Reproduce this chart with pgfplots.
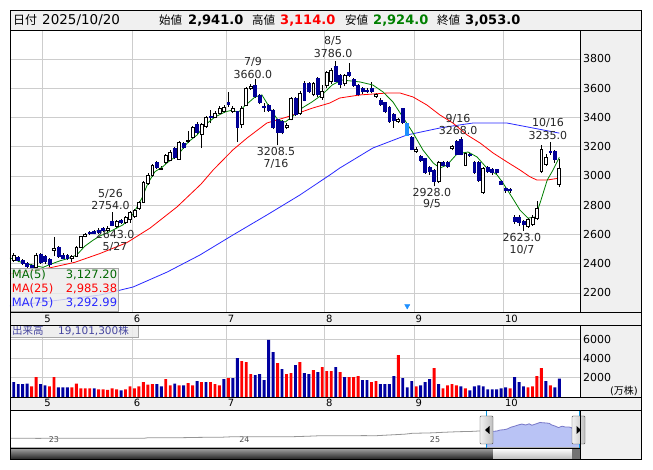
\documentclass[border=0pt]{standalone}
\usepackage{pgfplots}
\usepackage{pgfplotstable}
\pgfplotsset{compat=1.18}
\usepackage{fontspec}
\setmainfont{DejaVu Sans}
\newfontfamily\jp{Noto Sans CJK JP}
\definecolor{cblue}{RGB}{0,0,150}
\definecolor{lblue}{RGB}{30,144,255}
\definecolor{gridc}{RGB}{205,205,205}
\definecolor{bggray}{RGB}{240,240,240}
\definecolor{ma5c}{RGB}{0,128,0}
\definecolor{ma25c}{RGB}{255,0,0}
\definecolor{ma75c}{RGB}{40,40,255}
\definecolor{vred}{RGB}{255,0,0}
\definecolor{vblue}{RGB}{0,0,160}
\definecolor{navfill}{RGB}{185,195,245}
\definecolor{navline}{RGB}{150,150,150}
\definecolor{navwinline}{RGB}{120,120,200}
\definecolor{hdrgreen}{RGB}{0,128,0}
\definecolor{voltext}{RGB}{70,70,160}
\pgfdeclareplotmark{nothing}{}
\newcommand\fs[1]{\fontsize{#1}{#1}\selectfont}

\pgfplotstableread{
i o h l c k
-1 2425 2470 2415 2460 0
0 2445 2455 2410 2420 0
1 2420 2430 2390 2400 0
2 2405 2410 2370 2385 0
3 2390 2395 2350 2370 0
4 2375 2470 2365 2460 0
5 2465 2470 2400 2410 0
6 2450 2460 2400 2415 0
7 2430 2440 2380 2395 0
8 2490 2580 2450 2505 0
9 2510 2520 2440 2450 0
10 2460 2470 2430 2440 0
11 2455 2465 2425 2435 0
12 2440 2460 2415 2450 0
13 2450 2520 2445 2515 0
14 2515 2590 2510 2585 0
15 2590 2610 2580 2600 0
16 2615 2625 2595 2605 0
17 2620 2630 2600 2610 0
18 2630 2645 2605 2615 0
19 2640 2650 2615 2625 0
20 2625 2660 2615 2640 0
21 2690 2754 2655 2665 0
22 2655 2700 2643 2690 0
23 2695 2705 2670 2680 0
24 2680 2725 2670 2715 0
25 2700 2760 2680 2750 0
26 2725 2775 2715 2765 0
27 2780 2830 2770 2820 0
28 2820 2965 2815 2955 0
29 2950 3020 2940 3005 0
30 3005 3080 2995 3070 0
31 3090 3100 3050 3060 0
32 3045 3070 3040 3055 0
33 3090 3150 3080 3140 0
34 3110 3175 3100 3160 0
35 3190 3200 3115 3125 0
36 3115 3240 3110 3230 0
37 3225 3235 3185 3195 0
38 3235 3310 3225 3245 0
39 3265 3345 3255 3335 0
40 3350 3370 3290 3295 0
41 3285 3360 3190 3350 0
42 3340 3410 3330 3400 0
43 3410 3450 3360 3400 0
44 3400 3445 3395 3430 0
45 3430 3480 3425 3465 0
46 3440 3485 3430 3470 0
47 3500 3575 3470 3490 0
48 3440 3475 3430 3460 0
49 3440 3445 3232 3330 0
50 3350 3475 3330 3465 0
51 3485 3610 3480 3600 0
52 3600 3630 3590 3612 0
53 3620 3660 3535 3545 0
54 3550 3560 3490 3500 0
55 3472 3500 3440 3470 0
56 3485 3490 3440 3450 0
57 3450 3460 3320 3335 0
58 3385 3390 3208.5 3295 0
59 3370 3380 3285 3300 0
60 3330 3360 3320 3345 0
61 3385 3540 3380 3530 0
62 3530 3540 3410 3420 0
63 3430 3580 3420 3565 0
64 3635 3650 3510 3520 0
65 3635 3645 3565 3580 0
66 3560 3640 3545 3630 0
67 3670 3680 3540 3555 0
68 3535 3620 3520 3575 0
69 3620 3720 3600 3705 0
70 3650 3740 3630 3720 0
71 3750 3786 3640 3650 0
72 3690 3700 3600 3625 0
73 3630 3700 3615 3690 0
74 3710 3770 3680 3690 0
75 3660 3670 3610 3620 0
76 3620 3630 3545 3560 0
77 3600 3610 3560 3575 0
78 3585 3600 3565 3582 0
79 3600 3640 3565 3575 0
80 3545 3565 3535 3555 0
81 3520 3530 3480 3490 0
82 3500 3505 3430 3440 0
83 3470 3480 3365 3375 0
84 3420 3430 3330 3380 0
85 3375 3395 3365 3385 0
86 3460 3465 3355 3365 0
87 3360 3365 3275 3280 1
88 3265 3270 3175 3185 0
89 3170 3195 3160 3185 0
90 3135 3145 3095 3105 0
91 3120 3125 3015 3025 0
92 3060 3070 3010 3030 0
93 3040 3045 2928 2960 0
94 2960 3105 2950 3095 0
95 3095 3105 3060 3070 0
96 3090 3100 3055 3065 0
97 3190 3215 3175 3200 0
98 3235 3245 3140 3150 0
99 3250 3268 3140 3150 0
100 3075 3165 3065 3155 0
101 3150 3160 3130 3140 0
102 3095 3100 3015 3025 0
103 3090 3100 2960 2970 0
104 2890 3060 2880 3055 0
105 3060 3070 3020 3030 0
106 3045 3055 3010 3025 0
107 3045 3050 3005 3025 0
108 2960 2970 2940 2945 0
109 2915 2925 2885 2900 0
110 2910 2920 2885 2900 0
111 2720 2730 2670 2690 0
112 2720 2730 2660 2680 0
113 2690 2700 2623 2670 0
114 2655 2710 2645 2700 0
115 2670 2730 2660 2720 0
116 2710 2830 2700 2780 0
117 3030 3210 3020 3180 0
118 3080 3150 3070 3130 0
119 3170 3235 3145 3160 0
120 3165 3175 3090 3113 0
121 2941 3114 2924 3053 0
}\ohlc

\pgfplotstableread{
i v s
-1 1540 0
0 1330 0
1 1330 0
2 1400 0
3 1120 1
4 2065 1
5 1330 0
6 1225 0
7 1120 1
8 2065 1
9 1015 0
10 1015 0
11 1015 0
12 1015 1
13 1400 1
14 910 1
15 910 1
16 910 1
17 910 0
18 805 1
19 805 1
20 735 1
21 910 1
22 805 1
23 700 0
24 805 1
25 1120 1
26 910 1
27 1120 1
28 1540 1
29 1295 1
30 1330 1
31 1330 0
32 1120 0
33 1855 1
34 1225 1
35 1400 0
36 1225 1
37 1225 0
38 1435 1
39 1225 1
40 1645 0
41 1540 1
42 1540 0
43 1540 1
44 1330 1
45 1225 1
46 1855 0
47 1960 1
48 1960 0
49 4060 0
50 3745 1
51 3640 1
52 2380 1
53 2275 0
54 2380 0
55 1750 0
56 5950 0
57 4690 0
58 3535 1
59 2905 0
60 2380 1
61 2485 1
62 3325 0
63 3640 1
64 2485 0
65 2380 0
66 2800 1
67 2590 0
68 3115 1
69 2695 1
70 2695 1
71 3115 0
72 2590 1
73 2065 0
74 2065 1
75 2065 1
76 2170 1
77 1750 0
78 1750 0
79 1540 1
80 1645 1
81 1330 0
82 1330 0
83 1330 0
84 2170 0
85 4375 1
86 1960 0
87 1015 0
88 1645 0
89 1120 1
90 1225 0
91 1540 0
92 1855 0
93 3010 1
94 1330 0
95 910 1
96 1225 1
97 1330 1
98 1225 1
99 1120 0
100 910 1
101 700 0
102 1120 0
103 1225 0
104 1120 0
105 805 0
106 805 0
107 805 0
108 910 0
109 1015 0
110 910 1
111 2065 0
112 1540 0
113 1120 0
114 1015 1
115 1120 1
116 2170 1
117 3010 1
118 1645 0
119 1225 1
120 1015 0
121 1910 0
}\vol

\pgfplotstableread{
i v
-1.83 2440
1.07 2405
5.55 2375
7.11 2395
9.35 2420
11.1 2435
13.1 2460
14.9 2520
16.7 2560
18.3 2590
20.5 2620
23.4 2665
25.7 2740
27.7 2850
29.0 2950
30.6 3030
32.2 3060
33.5 3095
35.7 3143
38.0 3232
40.0 3280
41.8 3349
44.0 3403
46.2 3437
47.8 3450
49.2 3435
50.7 3480
52.95 3540
54.5 3554
55.6 3499
56.8 3437
58.1 3383
59.7 3369
61.2 3403
63.5 3465
65.7 3506
67.9 3554
70.2 3622
72.4 3656
76.4 3643
79.3 3622
81.6 3574
83.8 3506
86.0 3403
88.3 3294
90.5 3178
92.8 3089
94.3 3054
95.9 3075
98.1 3150
100.6 3164
102.6 3130
104.8 3054
107.1 3007
108.4 2952
110.4 2856
112.2 2767
114.0 2712
115.6 2719
116.7 2815
118.3 2972
119.6 3041
121 3127.2
}\maA

\pgfplotstableread{
i v
-1.83 2330
7.1 2372
12.7 2410
18.3 2470
24.3 2544
29.5 2644
35.5 2788
40.9 2945
43.6 3041
48.0 3178
51.2 3260
55.6 3362
60.1 3403
65.9 3465
69.7 3499
71.9 3533
76.4 3554
82.5 3567
85.4 3567
88.3 3540
91.4 3485
94.3 3417
97.2 3362
100.4 3280
103.3 3225
106.2 3157
109.3 3096
112.2 3041
114.4 2995
116.0 2972
118.2 2972
121 2985.38
}\maB

\pgfplotstableread{
i v
-1.83 2110
18.3 2186
25.7 2241
33.3 2343
40.6 2459
48.0 2596
55.6 2733
63.0 2870
69.7 3007
71.9 3054
79.3 3191
86.9 3280
94.3 3328
97.2 3342
101.7 3362
109.3 3362
115.1 3328
121 3293
}\maC

\pgfplotstableread{
t v
2022.79 1404
2022.95 1395
2023.10 1410
2023.25 1400
2023.40 1405
2023.50 1404
2023.52 1476
2023.65 1470
2023.80 1540
2023.90 1550
2023.97 1635
2024.10 1620
2024.20 1640
2024.28 1635
2024.36 1700
2024.43 1780
2024.55 1760
2024.65 1790
2024.72 1780
2024.80 1900
2024.87 2000
2024.91 2127
2025.00 2180
2025.08 2280
2025.15 2359
2025.22 2400
2025.26 2460
2025.30 2460
}\navA

\pgfplotstableread{
t v
2025.301 2460
2025.329 2415
2025.353 2450
2025.370 2600
2025.389 2640
2025.408 2750
2025.427 3005
2025.447 3160
2025.466 3335
2025.485 3465
2025.504 3330
2025.523 3500
2025.537 3295
2025.562 3520
2025.581 3705
2025.592 3650
2025.614 3620
2025.630 3555
2025.638 3375
2025.658 3185
2025.677 2960
2025.696 3150
2025.715 3025
2025.734 3025
2025.745 2945
2025.753 2690
2025.773 2780
2025.784 3180
2025.792 3113
2025.800 3053
}\navB

\begin{document}
\begin{tikzpicture}[x=1pt,y=1pt]
\useasboundingbox (0,0) rectangle (653,470);
\fill[white] (0,0) rectangle (653,470);
% header, strips and right column
\fill[bggray] (10,440) rectangle (641,460);
\fill[bggray] (10,145) rectangle (641,158);
\fill[bggray] (10,60) rectangle (641,73);
\fill[bggray] (580,10) rectangle (641,440);

% ---------- main price axis
\begin{axis}[
  at={(10pt,158pt)}, anchor=south west,
  width=570pt, height=282pt, scale only axis,
  xmin=-1.834, xmax=125.63, ymin=2070, ymax=3998,
  axis background/.style={fill=white},
  xtick={5.5,25.5,46.5,68.5,88.5,108.5},
  xticklabels={5,6,7,8,9,10},
  ytick={2200,2400,...,3800},
  grid=major, grid style={gridc, line width=0.8pt},
  major tick length=0pt,
  yticklabel pos=right,
  /pgf/number format/1000 sep={},
  /pgf/number format/assume math mode=true,
  yticklabel style={anchor=west, inner sep=0pt, xshift=3pt, font=\fs{11}},
  xticklabel style={anchor=west, inner sep=0pt, xshift=1.5pt, yshift=-6.5pt, font=\fs{10}},
  axis line style={black, line width=0.8pt},
]
% wicks
\addplot[only marks, mark=nothing,
  error bars/.cd, y dir=plus, y explicit, error mark=none,
  error bar style={line width=0.75pt, black}]
  table[x=i, y=l, y error expr={\thisrow{h}-\thisrow{l}}] {\ohlc};
% bodies
\addplot[scatter, only marks, mark=nothing,
  visualization depends on={\thisrow{o} \as \op},
  visualization depends on={\thisrow{c} \as \cl},
  visualization depends on={\thisrow{k} \as \kk},
  scatter/@pre marker code/.code={%
    \pgfkeys{/pgf/fpu=false}%
    \pgfmathsetmacro\bh{max(abs(\cl-\op)*0.14627,0.8)}%
    \pgfmathsetmacro\hb{-\bh/2}%
    \ifdim\cl pt<\op pt
      \ifdim\kk pt>0.5pt \pgfsetfillcolor{lblue}\pgfsetstrokecolor{lblue}%
      \else \pgfsetfillcolor{cblue}\pgfsetstrokecolor{cblue}\fi
    \else \pgfsetfillcolor{white}\pgfsetstrokecolor{black}\fi
    \pgfsetlinewidth{0.75pt}%
    \pgfpathrectangle{\pgfpoint{-1.45pt}{\hb pt}}{\pgfpoint{2.9pt}{\bh pt}}%
    \pgfusepath{fill,stroke}%
  },
  scatter/@post marker code/.code={},
] table[x=i, y expr={(\thisrow{o}+\thisrow{c})/2}] {\ohlc};
% moving averages
\addplot[ma75c, line width=0.8pt] table[x=i,y=v] {\maC};
\addplot[ma25c, line width=0.8pt] table[x=i,y=v] {\maB};
\addplot[ma5c, line width=0.8pt] table[x=i,y=v] {\maA};
% marker
\addplot[only marks, mark=triangle*, mark size=3pt, mark options={rotate=180, fill=lblue, draw=lblue}] coordinates {(87,2111)};
% annotations
\begin{scope}[every node/.style={font=\fs{11}, inner sep=0pt, text=black!85}]
\node at (axis cs:20.64,2877) {5/26};
\node at (axis cs:20.64,2795) {2754.0};
\node at (axis cs:21.65,2603) {2643.0};
\node at (axis cs:21.65,2514) {5/27};
\node at (axis cs:52.5,3779) {7/9};
\node at (axis cs:52.5,3697) {3660.0};
\node at (axis cs:57.65,3164) {3208.5};
\node at (axis cs:57.65,3082) {7/16};
\node at (axis cs:70.4,3923) {8/5};
\node at (axis cs:70.4,3834) {3786.0};
\node at (axis cs:92.53,2884) {2928.0};
\node at (axis cs:92.53,2808) {9/5};
\node at (axis cs:98.35,3390) {9/16};
\node at (axis cs:98.35,3308) {3268.0};
\node at (axis cs:118.47,3362) {10/16};
\node at (axis cs:118.47,3280) {3235.0};
\node at (axis cs:112.65,2576) {2623.0};
\node at (axis cs:112.65,2494) {10/7};
\end{scope}
\end{axis}

% ---------- volume axis
\begin{axis}[
  at={(10pt,73pt)}, anchor=south west,
  width=570pt, height=72pt, scale only axis,
  xmin=-1.834, xmax=125.63, ymin=0, ymax=7510,
  axis background/.style={fill=white},
  xtick={5.5,25.5,46.5,68.5,88.5,108.5},
  xticklabels={5,6,7,8,9,10},
  ytick={2000,4000,6000},
  grid=major, grid style={gridc, line width=0.8pt},
  major tick length=0pt,
  yticklabel pos=right,
  /pgf/number format/1000 sep={},
  /pgf/number format/assume math mode=true,
  yticklabel style={anchor=west, inner sep=0pt, xshift=3pt, font=\fs{11}},
  xticklabel style={anchor=west, inner sep=0pt, xshift=1.5pt, yshift=-6pt, font=\fs{10}},
  axis line style={black, line width=0.8pt},
  ybar, bar width=2.9pt, bar shift=0pt,
]
\addplot[fill=vred, draw=none, restrict expr to domain={\thisrow{s}}{0.5:1.5}] table[x=i,y=v] {\vol};
\addplot[fill=vblue, draw=none, restrict expr to domain={\thisrow{s}}{-0.5:0.5}] table[x=i,y=v] {\vol};
\end{axis}

% ---------- navigator axis
\begin{axis}[
  at={(10pt,22pt)}, anchor=south west,
  width=570pt, height=38pt, scale only axis,
  xmin=2022.798, xmax=2025.79, ymin=0, ymax=5500,
  axis background/.style={fill=white},
  xtick={2023,2024,2025}, xticklabels={23,24,25},
  ytick=\empty, major tick length=0pt,
  xticklabel style={anchor=center, inner sep=0pt, xshift=5.5pt, yshift=8pt, font=\fs{8}, text=black!70},
  axis line style={draw=none},
]
\addplot[navline, line width=0.8pt] table[x=t,y=v] {\navA};
\addplot[fill=navfill, draw=navwinline, line width=0.8pt] table[x=t,y=v] {\navB} \closedcycle;
\end{axis}

% ---------- overlays
% MA legend box
\fill[gray!15, fill opacity=0.8] (10,158.3) rectangle (118.3,201.7);
\draw[gray!70, line width=0.6pt] (10,158.3) rectangle (118.3,201.7);
\begin{scope}[every node/.style={inner sep=0pt, font=\fs{11.5}}]
\node[anchor=west, text=ma5c!80!black] at (11.7,195) {MA(5)};
\node[anchor=east, text=ma5c!80!black] at (117.3,195) {3,127.20};
\node[anchor=west, text=ma25c] at (11.7,181.3) {MA(25)};
\node[anchor=east, text=ma25c] at (117.3,181.3) {2,985.38};
\node[anchor=west, text=ma75c] at (11.7,167) {MA(75)};
\node[anchor=east, text=ma75c] at (117.3,167) {3,292.99};
\end{scope}
% volume label
\fill[gray!15, fill opacity=0.85] (10,133) rectangle (138,145);
\draw[gray!70, line width=0.6pt] (10,133) rectangle (138,145);
\node[anchor=west, inner sep=0pt, text=voltext] at (12,139) {\fs{10.5}\jp 出来高};
\node[anchor=west, inner sep=0pt, text=voltext] at (58,139) {\fs{10.5}19,101,300\jp 株};
\node[anchor=east, inner sep=0pt] at (638,79.3) {\fs{10}(\jp 万株\rmfamily)};

% header texts
\begin{scope}[every node/.style={inner sep=0pt, anchor=base west}]
\node at (13,445.5) {\fs{12}\jp 日付};
\node at (42,445.5) {\fs{13.5}2025/10/20};
\node at (159,445.5) {\fs{11.5}\jp 始値};
\node at (188,445.5) {\fs{13}\bfseries 2,941.0};
\node at (252,445.5) {\fs{11.5}\jp 高値};
\node[text=red] at (280,445.5) {\fs{13}\bfseries 3,114.0};
\node at (345,445.5) {\fs{11.5}\jp 安値};
\node[text=hdrgreen] at (373,445.5) {\fs{13}\bfseries 2,924.0};
\node at (437,445.5) {\fs{11.5}\jp 終値};
\node at (465,445.5) {\fs{13}\bfseries 3,053.0};
\end{scope}

% navigator handles and scrollbar
\shade[top color=black!35, bottom color=black!85] (10,11) rectangle (580,22);
\shade[top color=white, bottom color=black!25] (493,11.5) rectangle (572,21.5);
\fill[black!55] (572,11) rectangle (580,22);
\draw[cyan!80!blue, line width=0.8pt] (486.5,22) -- (486.5,60);
\draw[cyan!80!blue, line width=0.8pt] (579.5,22) -- (579.5,60);
\shade[left color=gray!10, right color=gray!50, draw=black!70, rounded corners=1pt] (480,26) rectangle (493,54);
\fill (489.5,36) -- (489.5,44) -- (485,40) -- cycle;
\shade[left color=gray!10, right color=gray!50, draw=black!70, rounded corners=1pt] (572,26) rectangle (585,54);
\fill (576.5,36) -- (576.5,44) -- (581,40) -- cycle;

% frame lines
\draw[black, line width=0.9pt] (10,10.5) rectangle (641,460);
\draw[black, line width=0.9pt] (10,440) -- (641,440);
\draw[black, line width=0.9pt] (10,158) -- (641,158);
\draw[black, line width=0.9pt] (10,145) -- (641,145);
\draw[black, line width=0.9pt] (10,73) -- (641,73);
\draw[black, line width=0.9pt] (10,60) -- (641,60);
\draw[black, line width=0.9pt] (10,22) -- (580,22);
\draw[black, line width=0.9pt] (580,158) -- (580,440);
\draw[black, line width=0.9pt] (580,73) -- (580,145);
\draw[black, line width=0.9pt] (580,10.5) -- (580,60);
\end{tikzpicture}
\end{document}
